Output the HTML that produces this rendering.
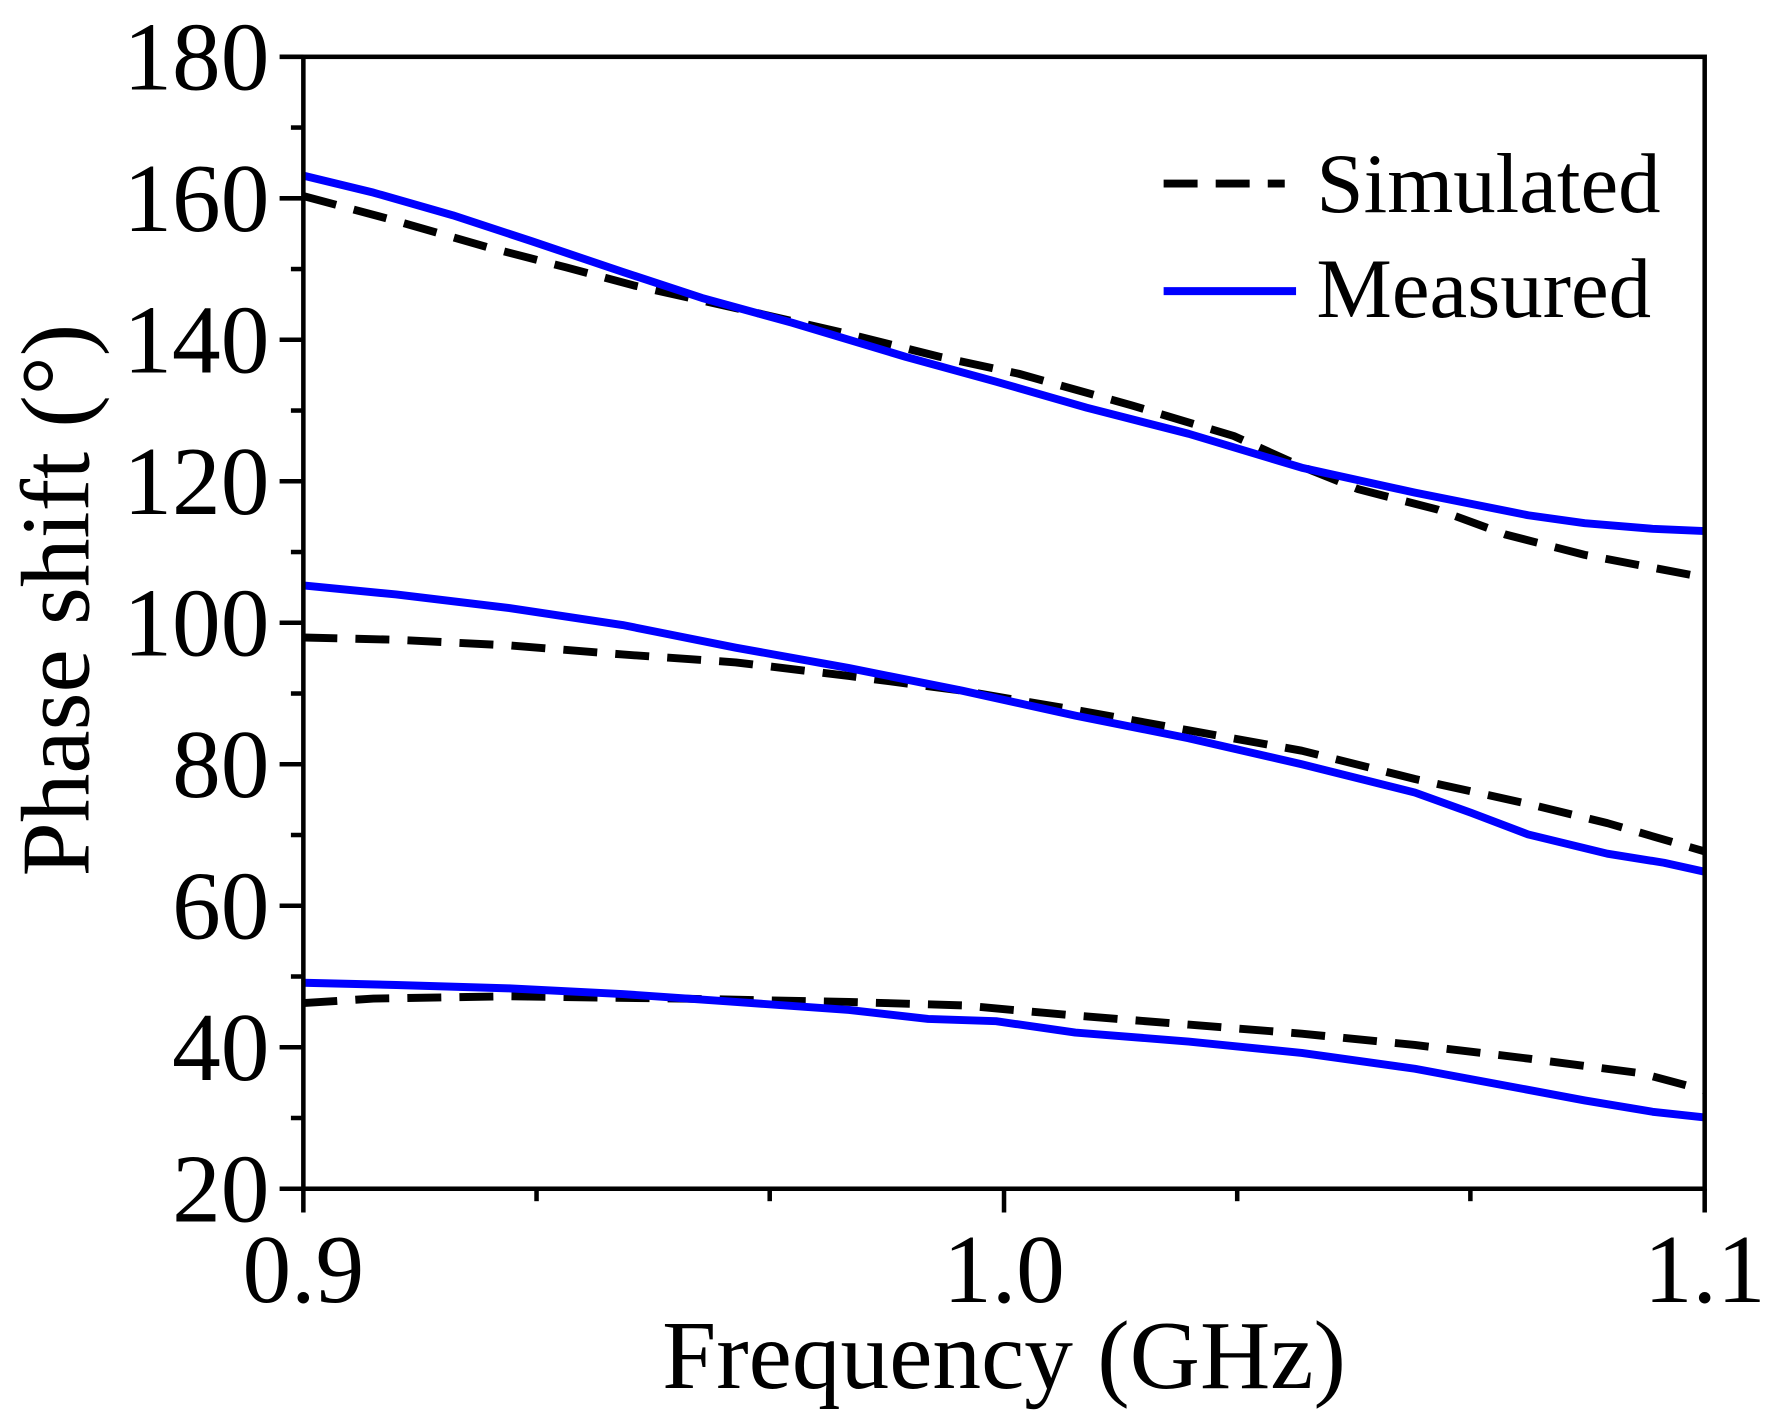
<!DOCTYPE html>
<html><head><meta charset="utf-8"><style>
html,body{margin:0;padding:0;background:#fff;}
svg{display:block;}
text{font-family:"Liberation Serif",serif;fill:#000;}
</style></head><body>
<svg width="1776" height="1421" viewBox="0 0 1569 1255" xmlns="http://www.w3.org/2000/svg">
<rect x="0" y="0" width="1569" height="1255" fill="#fff"/>
<g fill="none" stroke-linejoin="round">
<polyline stroke="#000" stroke-width="7" stroke-dasharray="30,16" points="268,173 350,195 430,218 500,236 560,252 650,272 750,295 830,315 900,330 1000,358 1090,385 1150,412 1200,432 1270,450 1330,472 1400,490 1506,510"/>
<polyline stroke="#00f" stroke-width="7" points="268,155 330,170 400,190 470,213 550,240 620,263 700,285 800,315 880,337 960,360 1050,383 1150,413 1250,435 1350,455 1400,462 1460,467 1506,469"/>
<polyline stroke="#000" stroke-width="7" stroke-dasharray="30,16" points="268,563 350,565 450,570 550,578 650,585 750,597 850,610 950,627 1050,645 1150,663 1250,688 1350,710 1420,727 1506,752"/>
<polyline stroke="#00f" stroke-width="7" points="268,517 350,525 450,537 550,552 650,572 750,590 850,610 950,632 1050,652 1150,675 1250,700 1300,718 1350,737 1420,754 1470,762 1506,770"/>
<polyline stroke="#000" stroke-width="7" stroke-dasharray="30,16" points="268,886 330,882 450,880 600,882 750,885 850,888 950,897 1050,905 1150,913 1250,923 1350,935 1450,948 1506,963"/>
<polyline stroke="#00f" stroke-width="7" points="268,868 350,870 450,873 550,878 650,885 750,892 820,900 880,902 950,912 1050,920 1150,930 1250,944 1320,957 1400,972 1460,982 1506,987"/>
</g>
<rect x="268" y="50" width="1238" height="1000" fill="none" stroke="#000" stroke-width="4"/>
<g stroke="#000" stroke-width="4">
<line x1="247" y1="50" x2="268" y2="50"/><line x1="257" y1="112.5" x2="268" y2="112.5"/>
<line x1="247" y1="175" x2="268" y2="175"/><line x1="257" y1="237.5" x2="268" y2="237.5"/>
<line x1="247" y1="300" x2="268" y2="300"/><line x1="257" y1="362.5" x2="268" y2="362.5"/>
<line x1="247" y1="425" x2="268" y2="425"/><line x1="257" y1="487.5" x2="268" y2="487.5"/>
<line x1="247" y1="550" x2="268" y2="550"/><line x1="257" y1="612.5" x2="268" y2="612.5"/>
<line x1="247" y1="675" x2="268" y2="675"/><line x1="257" y1="737.5" x2="268" y2="737.5"/>
<line x1="247" y1="800" x2="268" y2="800"/><line x1="257" y1="862.5" x2="268" y2="862.5"/>
<line x1="247" y1="925" x2="268" y2="925"/><line x1="257" y1="987.5" x2="268" y2="987.5"/>
<line x1="247" y1="1050" x2="268" y2="1050"/>
<line x1="268" y1="1050" x2="268" y2="1071"/><line x1="474" y1="1050" x2="474" y2="1061"/>
<line x1="680" y1="1050" x2="680" y2="1061"/><line x1="887" y1="1050" x2="887" y2="1071"/>
<line x1="1093" y1="1050" x2="1093" y2="1061"/><line x1="1299" y1="1050" x2="1299" y2="1061"/>
<line x1="1506" y1="1050" x2="1506" y2="1071"/>
</g>
<g font-size="86" text-anchor="end">
<text x="238" y="79">180</text><text x="238" y="204">160</text><text x="238" y="329">140</text>
<text x="238" y="454">120</text><text x="238" y="579">100</text><text x="238" y="704">80</text>
<text x="238" y="829">60</text><text x="238" y="954">40</text><text x="238" y="1079">20</text>
</g>
<g font-size="86" text-anchor="middle">
<text x="268" y="1150">0.9</text><text x="887" y="1150">1.0</text><text x="1506" y="1150">1.1</text>
<text x="887" y="1226">Frequency (GHz)</text>
<text transform="translate(78,530) rotate(-90)">Phase shift (°)</text>
</g>
<line x1="1028" y1="162" x2="1135" y2="162" stroke="#000" stroke-width="7" stroke-dasharray="30,16"/>
<line x1="1028" y1="257" x2="1145" y2="257" stroke="#00f" stroke-width="7"/>
<g font-size="75">
<text x="1163" y="187">Simulated</text>
<text x="1163" y="280">Measured</text>
</g>
</svg>
</body></html>
